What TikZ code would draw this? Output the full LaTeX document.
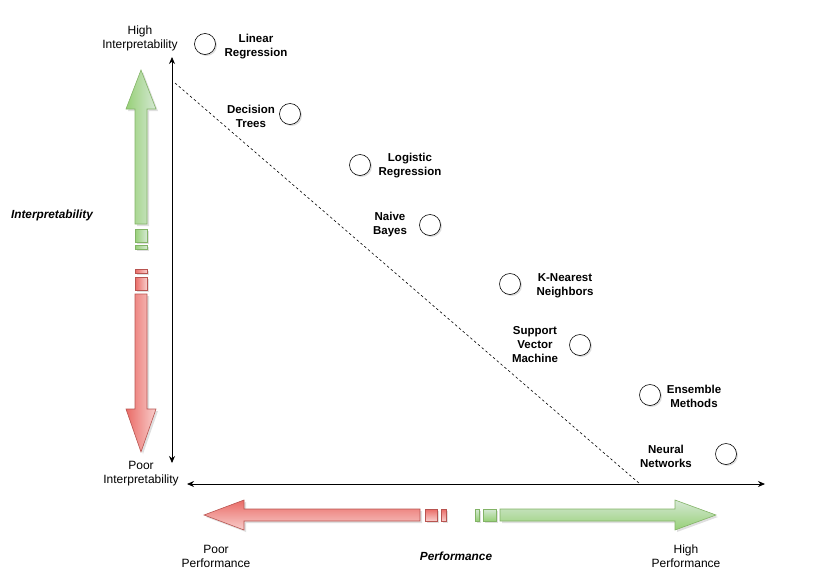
\documentclass[tikz,border=0pt]{standalone}
\usepackage{fontspec}
\setmainfont{Liberation Sans}
\usetikzlibrary{arrows.meta,shadows}
\definecolor{gfill}{HTML}{D5E8D4}
\definecolor{gdark}{HTML}{97D077}
\definecolor{gline}{HTML}{82B366}
\definecolor{rfill}{HTML}{F8CECC}
\definecolor{rdark}{HTML}{EA6B66}
\definecolor{rline}{HTML}{B85450}
\begin{document}
\begin{tikzpicture}[x=1pt, y=-1pt, thick,
		model/.style = {draw, circle, fill=white, minimum size=21pt, inner sep=0pt, line width=0.6pt,
			drop shadow={shadow xshift=1.5pt, shadow yshift=-1.5pt, opacity=0.25}},
		lbl/.style = {font=\fontsize{11.5}{14}\selectfont\bfseries, align=center},
		ax/.style = {font=\fontsize{12}{14}\selectfont, align=center},
		axb/.style = {font=\fontsize{11.8}{14}\selectfont\bfseries\itshape, align=center},
		greenarr/.style = {draw=gline, line width=0.6pt, left color=gdark, right color=gfill,
			drop shadow={shadow xshift=2pt, shadow yshift=-2pt, opacity=0.25}},
		redarr/.style = {draw=rline, line width=0.6pt, left color=rdark, right color=rfill,
			drop shadow={shadow xshift=2pt, shadow yshift=-2pt, opacity=0.25}},
		greenarrh/.style = {greenarr, top color=gfill, bottom color=gdark},
		redarrh/.style = {redarr, top color=rdark, bottom color=rfill},
		axis/.style = {line width=0.8pt, {Stealth[length=7pt,width=6pt]}-{Stealth[length=7pt,width=6pt]}}]

		\useasboundingbox (0,0) rectangle (821,587);

		% axes
		\coordinate (vtop) at (172,57);
		\coordinate (vbot) at (172,463);
		\coordinate (hleft) at (187,484);
		\coordinate (hright) at (765,484);
		\coordinate (dstart) at (175,83);
		\coordinate (dend) at (640,484);
		\draw[axis] (vbot) -- (vtop);
		\draw[axis] (hleft) -- (hright);
		\draw[line width=0.6pt, dash pattern=on 2.5pt off 2.5pt] (dstart) -- (dend);

		% vertical arrows
		\draw[greenarr] (141,70) -- (156,109) -- (147,109) -- (147,224) -- (135,224) -- (135,109) -- (126,109) -- cycle;
		\draw[greenarr] (135,229) rectangle (147,242);
		\draw[greenarr] (135,245) rectangle (147,249);
		\draw[redarr] (135,269) rectangle (147,273);
		\draw[redarr] (135,277) rectangle (147,290);
		\draw[redarr] (141,452) -- (156,409) -- (147,409) -- (147,294) -- (135,294) -- (135,409) -- (126,409) -- cycle;

		% horizontal arrows
		\draw[redarrh] (204,515) -- (244,500) -- (244,509) -- (420,509) -- (420,521) -- (244,521) -- (244,530) -- cycle;
		\draw[redarrh] (425,509) rectangle (437,521);
		\draw[redarrh] (441,509) rectangle (446,521);
		\draw[greenarrh] (475,509) rectangle (479,521);
		\draw[greenarrh] (483,509) rectangle (496,521);
		\draw[greenarrh] (716,515) -- (675,500) -- (675,509) -- (500,509) -- (500,521) -- (675,521) -- (675,530) -- cycle;

		% models
		\node[model] (linreg) at (205,44) {};
		\node[model] (dtree) at (290,114) {};
		\node[model] (logreg) at (360,165) {};
		\node[model] (nbayes) at (430,225) {};
		\node[model] (knn) at (510,284) {};
		\node[model] (svm) at (580,345) {};
		\node[model] (ens) at (650,395) {};
		\node[model] (nn) at (726,454) {};

		\node[lbl] (linregl) at (256,47) {Linear\\Regression};
		\node[lbl] (dtreel) at (251,116) {Decision\\Trees};
		\node[lbl] (logregl) at (410,166) {Logistic\\Regression};
		\node[lbl] (nbayesl) at (390,225) {Naive\\Bayes};
		\node[lbl] (knnl) at (565,286) {K-Nearest\\Neighbors};
		\node[lbl] (svml) at (535,345) {Support\\Vector\\Machine};
		\node[lbl] (ensl) at (694,396) {Ensemble\\Methods};
		\node[lbl] (nnl) at (666,456) {Neural\\Networks};

		% axis labels
		\node[ax] (hiint) at (140,38) {High\\Interpretability};
		\node[ax] (point) at (141,474) {Poor\\Interpretability};
		\node[axb] (interp) at (52,215) {Interpretability};
		\node[ax] (poperf) at (216,556) {Poor\\Performance};
		\node[axb] (perf) at (456,556) {Performance};
		\node[ax] (hiperf) at (686,556) {High\\Performance};
	\end{tikzpicture}
\end{document}
